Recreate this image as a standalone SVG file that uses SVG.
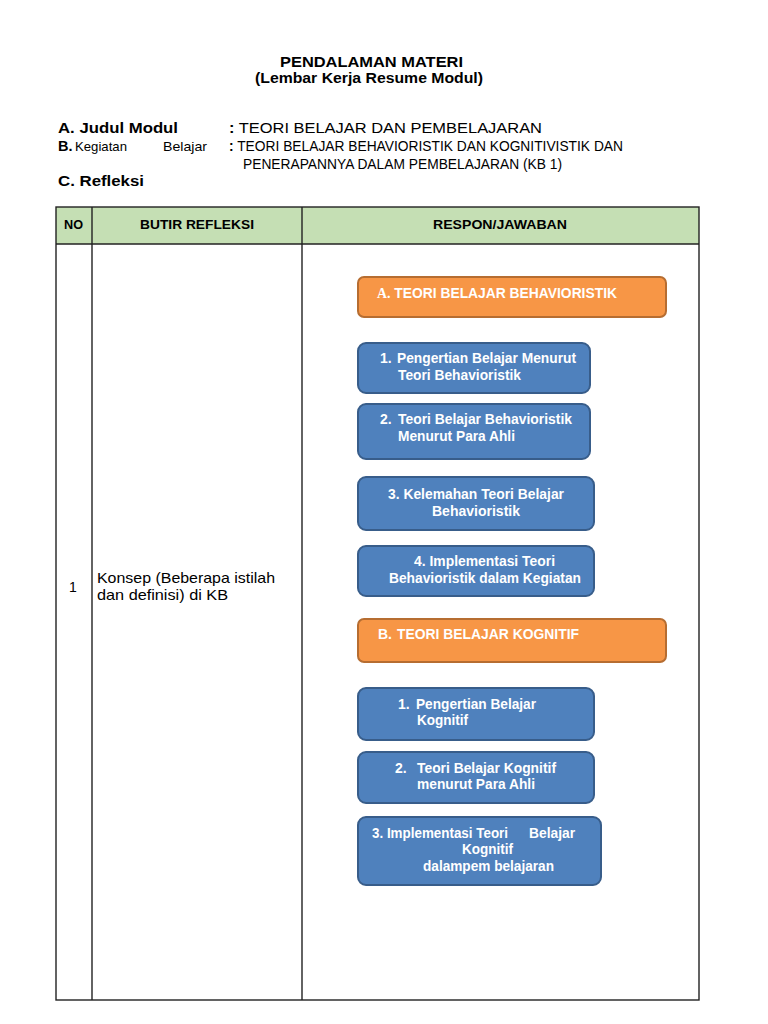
<svg xmlns="http://www.w3.org/2000/svg" width="768" height="1024" viewBox="0 0 768 1024">
<style>
text{font-family:"Liberation Sans",Arial,sans-serif;fill:#000}
.b{font-weight:bold}
.w{fill:#fff;font-weight:bold;font-size:14px}
.or{fill:#F79646;stroke:#B66D31;stroke-width:2}
.bl{fill:#4F81BD;stroke:#385D8A;stroke-width:2}
.ln{stroke:#222;stroke-width:1.4;fill:none}
</style>
<rect width="768" height="1024" fill="#fff"/>
<g id="header">
<text class="b" x="280" y="67" font-size="15" textLength="183" lengthAdjust="spacingAndGlyphs">PENDALAMAN MATERI</text>
<text class="b" x="255" y="83" font-size="15" textLength="228" lengthAdjust="spacingAndGlyphs">(Lembar Kerja Resume Modul)</text>
<text class="b" x="58" y="133" font-size="15" textLength="120" lengthAdjust="spacingAndGlyphs">A. Judul Modul</text>
<text x="229" y="133" font-size="15.5" textLength="313" lengthAdjust="spacingAndGlyphs"><tspan class="b">:</tspan> TEORI BELAJAR DAN PEMBELAJARAN</text>
<text class="b" x="58" y="151" font-size="14.5">B.</text>
<text x="75" y="151" font-size="13" textLength="52" lengthAdjust="spacingAndGlyphs">Kegiatan</text>
<text x="163" y="151" font-size="13" textLength="44" lengthAdjust="spacingAndGlyphs">Belajar</text>
<text x="229" y="151" font-size="14" textLength="394" lengthAdjust="spacingAndGlyphs"><tspan class="b">:</tspan> TEORI BELAJAR BEHAVIORISTIK DAN KOGNITIVISTIK DAN</text>
<text x="243" y="169" font-size="14" textLength="319" lengthAdjust="spacingAndGlyphs">PENERAPANNYA DALAM PEMBELAJARAN (KB 1)</text>
<text class="b" x="58" y="186" font-size="15" textLength="86" lengthAdjust="spacingAndGlyphs">C. Refleksi</text>
</g>
<g id="table">
<rect x="56" y="207" width="643" height="37" fill="#C5DFB4"/>
<rect x="56" y="207" width="643" height="793" class="ln"/>
<line x1="56" y1="244" x2="699" y2="244" class="ln"/>
<line x1="92" y1="207" x2="92" y2="1000" class="ln"/>
<line x1="302" y1="207" x2="302" y2="1000" class="ln"/>
<text class="b" x="64" y="229" font-size="13" textLength="19" lengthAdjust="spacingAndGlyphs">NO</text>
<text class="b" x="140" y="229" font-size="13" textLength="114" lengthAdjust="spacingAndGlyphs">BUTIR REFLEKSI</text>
<text class="b" x="433" y="229" font-size="13" textLength="134" lengthAdjust="spacingAndGlyphs">RESPON/JAWABAN</text>
<text x="69" y="592" font-size="14">1</text>
<text x="97" y="583" font-size="14.5" textLength="178" lengthAdjust="spacingAndGlyphs">Konsep (Beberapa istilah</text>
<text x="97" y="600" font-size="14.5" textLength="131" lengthAdjust="spacingAndGlyphs">dan definisi) di KB</text>
</g>
<g id="nodeA">
<rect x="358" y="277" width="308" height="40" rx="6" class="or"/>
<text class="w" x="377" y="298" textLength="240" lengthAdjust="spacingAndGlyphs"><tspan font-family="Liberation Serif,serif">A.</tspan> TEORI BELAJAR BEHAVIORISTIK</text>
</g>
<g id="nodeA1">
<rect x="358" y="343" width="232" height="50" rx="8" class="bl"/>
<text class="w" x="380" y="363">1.</text>
<text class="w" x="397" y="363" textLength="179" lengthAdjust="spacingAndGlyphs">Pengertian Belajar Menurut</text>
<text class="w" x="398" y="380" textLength="123" lengthAdjust="spacingAndGlyphs">Teori Behavioristik</text>
</g>
<g id="nodeA2">
<rect x="358" y="404" width="232" height="55" rx="8" class="bl"/>
<text class="w" x="380" y="424">2.</text>
<text class="w" x="398" y="424" textLength="174" lengthAdjust="spacingAndGlyphs">Teori Belajar Behavioristik</text>
<text class="w" x="398" y="441" textLength="117" lengthAdjust="spacingAndGlyphs">Menurut Para Ahli</text>
</g>
<g id="nodeA3">
<rect x="358" y="477" width="236" height="53" rx="8" class="bl"/>
<text class="w" x="388" y="499" textLength="176" lengthAdjust="spacingAndGlyphs">3. Kelemahan Teori Belajar</text>
<text class="w" x="432" y="516" textLength="88" lengthAdjust="spacingAndGlyphs">Behavioristik</text>
</g>
<g id="nodeA4">
<rect x="358" y="546" width="236" height="50" rx="8" class="bl"/>
<text class="w" x="414" y="566" textLength="141" lengthAdjust="spacingAndGlyphs">4. Implementasi Teori</text>
<text class="w" x="389" y="583" textLength="192" lengthAdjust="spacingAndGlyphs">Behavioristik dalam Kegiatan</text>
</g>
<g id="nodeB">
<rect x="358" y="619" width="308" height="43" rx="6" class="or"/>
<text class="w" x="378" y="639">B.</text>
<text class="w" x="397" y="639" textLength="182" lengthAdjust="spacingAndGlyphs">TEORI BELAJAR KOGNITIF</text>
</g>
<g id="nodeB1">
<rect x="358" y="688" width="236" height="52" rx="8" class="bl"/>
<text class="w" x="398" y="709">1.</text>
<text class="w" x="416" y="709" textLength="120" lengthAdjust="spacingAndGlyphs">Pengertian Belajar</text>
<text class="w" x="417" y="725" textLength="51" lengthAdjust="spacingAndGlyphs">Kognitif</text>
</g>
<g id="nodeB2">
<rect x="358" y="752" width="236" height="51" rx="8" class="bl"/>
<text class="w" x="395" y="773">2.</text>
<text class="w" x="417" y="773" textLength="139" lengthAdjust="spacingAndGlyphs">Teori Belajar Kognitif</text>
<text class="w" x="417" y="789" textLength="118" lengthAdjust="spacingAndGlyphs">menurut Para Ahli</text>
</g>
<g id="nodeB3">
<rect x="358" y="817" width="243" height="68" rx="8" class="bl"/>
<text class="w" x="372" y="838" textLength="136" lengthAdjust="spacingAndGlyphs">3. Implementasi Teori</text>
<text class="w" x="529" y="838" textLength="46" lengthAdjust="spacingAndGlyphs">Belajar</text>
<text class="w" x="462" y="854" textLength="51" lengthAdjust="spacingAndGlyphs">Kognitif</text>
<text class="w" x="423" y="871" textLength="131" lengthAdjust="spacingAndGlyphs">dalampem belajaran</text>
</g>
<g id="connectors"/>
</svg>
